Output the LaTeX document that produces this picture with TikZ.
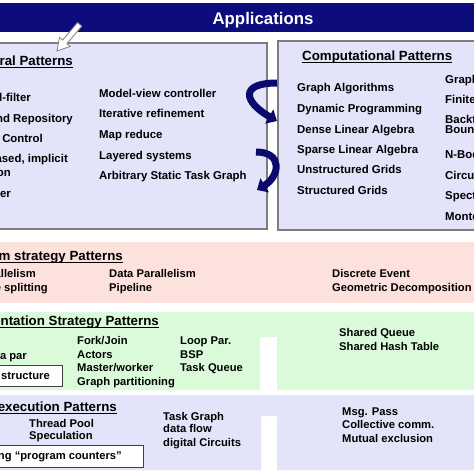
\documentclass[tikz,border=0pt]{standalone}
\usepackage{fontspec}
\setmainfont{Liberation Sans}
\usetikzlibrary{arrows.meta}
\definecolor{navybar}{RGB}{12,12,125}
\definecolor{arrowblue}{RGB}{10,10,110}
\definecolor{lav}{RGB}{227,227,249}
\definecolor{pinkband}{RGB}{252,225,221}
\definecolor{greenband}{RGB}{218,250,218}
\definecolor{boxgray}{RGB}{125,125,125}
\begin{document}
\begin{tikzpicture}[x=1pt,y=-1pt,
  item/.style={inner sep=0pt,font=\fontsize{11.4}{13}\selectfont\bfseries},
  bitem/.style={inner sep=0pt,font=\fontsize{11.2}{13}\selectfont\bfseries},
  ttl/.style={inner sep=0pt,font=\fontsize{13.3}{16}\selectfont\bfseries},
  pbox/.style={draw=boxgray,line width=1.5pt,fill=lav,inner sep=0pt,anchor=north west},
  wbox/.style={draw=black!75,line width=0.9pt,fill=white,inner sep=0pt,anchor=north west},
  curved/.style={draw=arrowblue,line width=7pt,-{Triangle[length=9pt,width=16pt]}},
  uline/.style={line width=1.1pt}]
\useasboundingbox (0,0) rectangle (474,474);
\clip (0,0) rectangle (474,474);

% top bar
\node[fill=navybar,inner sep=0pt,minimum width=480pt,minimum height=29pt,anchor=north west] (bar) at (-3,3) {};
\node[font=\fontsize{16.8}{20}\selectfont\bfseries,text=white,inner sep=0pt,anchor=base] (app) at (263,24) {Applications};

% upper boxes
\node[pbox,minimum width=270pt,minimum height=186pt] (sbox) at (-4,42) {};
\node[pbox,minimum width=205pt,minimum height=189pt] (cbox) at (277,40) {};

% bands
\fill[pinkband] (0,242) rectangle (474,303);
\fill[greenband] (0,312) -- (474,312) -- (474,390) -- (277,390) -- (277,337) -- (260,337) -- (260,390) -- (0,390) -- cycle;
\fill[lav] (0,395) -- (474,395) -- (474,470) -- (277,470) -- (277,416) -- (261,416) -- (261,470) -- (0,470) -- cycle;

% white boxes
\node[wbox,minimum width=67pt,minimum height=20.5pt] (psbox) at (-5,365) {};
\node[wbox,minimum width=148pt,minimum height=22pt] (apbox) at (-5,445) {};

% Structural patterns
\node[ttl,anchor=base east] (tS) at (73,65) {Structural Patterns};
\node[item,anchor=base east] (s1) at (31,101) {Pipe-and-filter};
\node[item,anchor=base east] (s2) at (73,122) {Agent and Repository};
\node[item,anchor=base east] (s3) at (43,142) {Process Control};
\node[item,anchor=base east] (s4) at (68,162) {Event based, implicit};
\node[item,anchor=base east] (s5) at (11,176.5) {invocation};
\node[item,anchor=base east] (s6) at (11,197) {Puppeteer};
\node[item,anchor=base west] (s7) at (99,97) {Model-view controller};
\node[item,anchor=base west] (s8) at (99,117.5) {Iterative refinement};
\node[item,anchor=base west] (s9) at (99,138) {Map reduce};
\node[item,anchor=base west] (s10) at (99,159) {Layered systems};
\node[item,anchor=base west] (s11) at (99,179.5) {Arbitrary Static Task Graph};

% Computational patterns
\node[ttl,anchor=base west] (tC) at (302,60.5) {Computational Patterns};
\node[item,anchor=base west] (c1) at (297,91.5) {Graph Algorithms};
\node[item,anchor=base west] (c2) at (297,112.3) {Dynamic Programming};
\node[item,anchor=base west] (c3) at (297,133) {Dense Linear Algebra};
\node[item,anchor=base west] (c4) at (297,153.3) {Sparse Linear Algebra};
\node[item,anchor=base west] (c5) at (297,173.3) {Unstructured Grids};
\node[item,anchor=base west] (c6) at (297,194) {Structured Grids};
\node[item,anchor=base west] (c7) at (445,83.3) {Graphical models};
\node[item,anchor=base west] (c8) at (445,103.3) {Finite state machines};
\node[item,anchor=base west] (c9) at (445,123.3) {Backtrack Branch and};
\node[item,anchor=base west] (c10) at (445,133.5) {Bound};
\node[item,anchor=base west] (c11) at (445,158) {N-Body methods};
\node[item,anchor=base west] (c12) at (445,179) {Circuits};
\node[item,anchor=base west] (c13) at (445,199.7) {Spectral Methods};
\node[item,anchor=base west] (c14) at (445,220) {Monte Carlo};

% Parallel algorithm strategy
\node[ttl,anchor=base east] (tP) at (123,260) {Parallel Algorithm strategy Patterns};
\node[bitem,anchor=base east] (p1) at (36,277.7) {Task Parallelism};
\node[bitem,anchor=base east] (p2) at (48,291) {Recursive splitting};
\node[bitem,anchor=base west] (p3) at (109,277.7) {Data Parallelism};
\node[bitem,anchor=base west] (p4) at (109,291) {Pipeline};
\node[bitem,anchor=base west] (p5) at (332,277.7) {Discrete Event};
\node[bitem,anchor=base west] (p6) at (332,291) {Geometric Decomposition};

% Implementation strategy
\node[ttl,anchor=base east] (tI) at (159,325.5) {Implementation Strategy Patterns};
\node[bitem,anchor=base east] (i1) at (27,359) {Strict-data par};
\node[bitem,anchor=base east] (i2) at (50,379) {Program structure};
\node[bitem,anchor=base west] (i3) at (77,344.5) {Fork/Join};
\node[bitem,anchor=base west] (i4) at (77,358) {Actors};
\node[bitem,anchor=base west] (i5) at (77,371.5) {Master/worker};
\node[bitem,anchor=base west] (i6) at (77,385) {Graph partitioning};
\node[bitem,anchor=base west] (i7) at (180,344.5) {Loop Par.};
\node[bitem,anchor=base west] (i8) at (180,358) {BSP};
\node[bitem,anchor=base west] (i9) at (180,371.5) {Task Queue};
\node[bitem,anchor=base west] (i10) at (339,336.7) {Shared Queue};
\node[bitem,anchor=base west] (i11) at (339,350) {Shared Hash Table};

% Parallel execution
\node[ttl,anchor=base east] (tE) at (117,411) {Parallel execution Patterns};
\node[bitem,anchor=base west] (e1) at (29,427) {Thread Pool};
\node[bitem,anchor=base west] (e2) at (29,439.5) {Speculation};
\node[bitem,anchor=base east] (e3) at (122,459) {Advancing “program counters”};
\node[bitem,anchor=base west] (e4) at (163,420) {Task Graph};
\node[bitem,anchor=base west] (e5) at (163,432.7) {data flow};
\node[bitem,anchor=base west] (e6) at (163,446.7) {digital Circuits};
\node[bitem,anchor=base west] (e7) at (342,415) {Msg. Pass};
\node[bitem,anchor=base west] (e8) at (342,428.3) {Collective comm.};
\node[bitem,anchor=base west] (e9) at (342,442.3) {Mutual exclusion};

% underlines
\foreach \t in {tS,tC,tP,tI,tE}
  \draw[uline] ([yshift=-2.2pt]\t.base west) -- ([yshift=-2.2pt]\t.base east);

% curved arrows between the pattern boxes
\coordinate (u1) at (277,83);
\coordinate (u2) at (277,121);
\draw[curved] (u1) .. controls (239,83) and (244,102) .. (u2);
\coordinate (l1) at (256,152);
\coordinate (l2) at (257,190);
\draw[curved] (l1) .. controls (283,152) and (280,176) .. (l2);

% hollow arrow from Applications
\begin{scope}[shift={(57,51)},rotate=229.6]
  \fill[white,draw=gray,line width=0.8pt] (0,0) -- (-12,7) -- (-12,2.8) -- (-35,2.8) -- (-35,-2.8) -- (-12,-2.8) -- (-12,-7) -- cycle;
\end{scope}
\end{tikzpicture}
\end{document}
